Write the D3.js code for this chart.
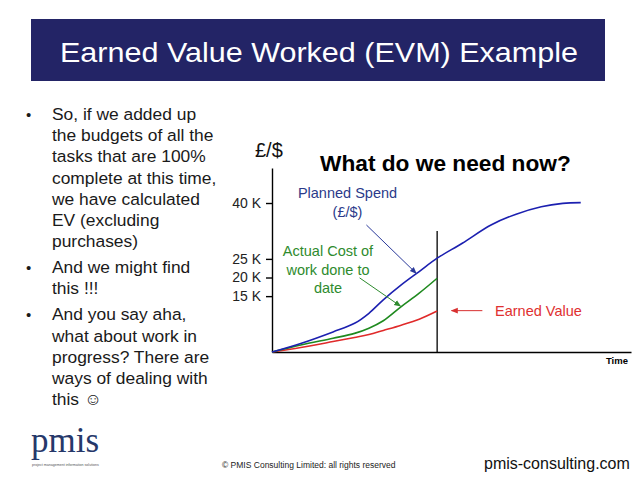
<!DOCTYPE html>
<html>
<head>
<meta charset="utf-8">
<script src="https://cdn.jsdelivr.net/npm/d3@7"></script>
<style>
    body { margin: 0; background: #fff; }
    svg { display: block; font-family: "Liberation Sans", Arial, sans-serif; }
    .tick text { font-size: 14px; fill: #222; }
    .tick line, .domain { stroke: #000; stroke-width: 1.4px; }
</style>
</head>
<body>
<svg id="slide" width="638" height="479"></svg>
<script>
// time runs 0..100 along the bottom, values are in thousands (K)
var plannedTime = [0, 8, 17, 23, 27, 31, 36, 41, 46, 53, 61, 68, 75, 81, 86];
var plannedValue = [0, 2.3, 5.4, 7.7, 10.4, 14.0, 18.0, 21.6, 25.2, 29.2, 34.1, 37.0, 39.0, 39.9, 40.1];

var actualTime = [0, 8, 17, 23, 27, 31, 36, 41, 46];
var actualValue = [0, 1.9, 3.7, 5.0, 6.4, 8.4, 12.2, 15.8, 19.8];

var earnedTime = [0, 8, 17, 23, 27, 31, 36, 41, 46];
var earnedValue = [0, 1.2, 2.8, 3.9, 4.7, 5.8, 7.2, 8.8, 11.0];

var yTicks = [15, 20, 25, 40];
var nowTime = 46;
var nowTop = 32.5;

var bulletPoints = [
    ["So, if we added up", "the budgets of all the", "tasks that are 100%", "complete at this time,",
     "we have calculated", "EV (excluding", "purchases)"],
    ["And we might find", "this !!!"],
    ["And you say aha,", "what about work in", "progress? There are", "ways of dealing with", "this \u263A"]
];

var svg = d3.select("#slide");

var x = d3.scaleLinear().domain([0, 100]).range([272, 631]);
var y = d3.scaleLinear().domain([0, 49.4]).range([352, 168]);

drawTitle();
drawBullets();
drawChart();
drawFooter();

function drawTitle() {
    svg.append("rect").attr("x", 31).attr("y", 19)
        .attr("width", 574).attr("height", 62).attr("fill", "#232466");
    svg.append("text")
        .attr("x", 60).attr("y", 62)
        .attr("textLength", 518).attr("lengthAdjust", "spacingAndGlyphs")
        .style("font-size", "28px").style("fill", "#fff")
        .text("Earned Value Worked (EVM) Example");
}

function drawBullets() {
    var lineY = 120;
    bulletPoints.forEach(function(lines) {
        svg.append("text")
            .attr("x", 26).attr("y", lineY)
            .style("font-size", "15px").style("fill", "#1a1a1a")
            .text("\u2022");
        lines.forEach(function(line) {
            svg.append("text")
                .attr("x", 52).attr("y", lineY)
                .style("font-size", "17.4px").style("fill", "#1a1a1a")
                .text(line);
            lineY += 21.2;
        });
        lineY += 4.8;
    });
}

function drawChart() {
    var defs = svg.append("defs");
    [["head-blue", "#2b3a9a"], ["head-green", "#2e8b2e"], ["head-red", "#d83030"]].forEach(function(m) {
        defs.append("marker")
            .attr("id", m[0])
            .attr("viewBox", "0 0 10 10")
            .attr("refX", 9).attr("refY", 5)
            .attr("markerWidth", 7).attr("markerHeight", 7)
            .attr("orient", "auto")
            .append("path")
            .attr("d", "M0,1 L10,5 L0,9 z")
            .attr("fill", m[1]);
    });

    // Axes
    svg.append("g")
        .attr("transform", "translate(" + x(0) + ",0)")
        .call(d3.axisLeft(y).tickValues(yTicks).tickSize(6).tickPadding(5).tickSizeOuter(0)
            .tickFormat(function(d) { return d + " K"; }))
        .selectAll("text").style("font-family", "Liberation Sans, Arial, sans-serif");
    svg.append("g")
        .attr("transform", "translate(0," + y(0) + ")")
        .call(d3.axisBottom(x).tickValues([]).tickSizeOuter(0));

    svg.append("text")
        .attr("x", 255).attr("y", 157)
        .style("font-size", "20px").style("fill", "#111")
        .text("\u00A3/$");
    svg.append("text")
        .attr("x", 320).attr("y", 171)
        .style("font-size", "22.7px").style("font-weight", "bold").style("fill", "#000")
        .text("What do we need now?");
    svg.append("text")
        .attr("x", 628).attr("y", 364).attr("text-anchor", "end")
        .style("font-size", "9.5px").style("font-weight", "bold").style("fill", "#000")
        .text("Time");

    // "Now" line
    svg.append("line")
        .attr("x1", x(nowTime)).attr("x2", x(nowTime))
        .attr("y1", y(nowTop)).attr("y2", y(0))
        .attr("stroke", "#000").attr("stroke-width", 1.3);

    var line = d3.line()
        .x(function(d) { return x(d[0]); })
        .y(function(d) { return y(d[1]); })
        .curve(d3.curveCatmullRom.alpha(0.5));

    var series = [
        [earnedTime, earnedValue, "#e02a2a"],
        [actualTime, actualValue, "#1f8a1f"],
        [plannedTime, plannedValue, "#1c20b0"]
    ];
    series.forEach(function(s) {
        svg.append("path")
            .datum(d3.zip(s[0], s[1]))
            .attr("d", line)
            .attr("fill", "none")
            .attr("stroke", s[2])
            .attr("stroke-width", 1.6);
    });

    // Annotations
    function arrow(t1, v1, t2, v2, color, head) {
        svg.append("line")
            .attr("x1", x(t1)).attr("y1", y(v1))
            .attr("x2", x(t2)).attr("y2", y(v2))
            .attr("stroke", color).attr("stroke-width", 1)
            .attr("marker-end", "url(#" + head + ")");
    }
    function label(lines, cx, firstY, step, color, anchor) {
        lines.forEach(function(l, i) {
            svg.append("text")
                .attr("x", cx).attr("y", firstY + i * step)
                .attr("text-anchor", anchor)
                .style("font-size", "14.5px").style("fill", color)
                .text(l);
        });
    }

    label(["Planned Spend", "(\u00A3/$)"], 347.5, 198, 19, "#2b3a8a", "middle");
    arrow(26.3, 34.1, 40.2, 21.1, "#2b3a9a", "head-blue");

    label(["Actual Cost of", "work done to", "date"], 328, 256, 18.5, "#2e8b2e", "middle");
    arrow(24.4, 19.9, 35.8, 12.3, "#2e8b2e", "head-green");

    label(["Earned Value"], 495, 316, 0, "#e03030", "start");
    arrow(58.6, 11.1, 50, 11.1, "#d83030", "head-red");
}

function drawFooter() {
    svg.append("text")
        .attr("x", 31).attr("y", 452)
        .style("font-family", "Liberation Serif, 'DejaVu Serif', serif")
        .style("font-size", "35px").style("fill", "#26386a")
        .text("pmis");
    svg.append("text")
        .attr("x", 32).attr("y", 466)
        .style("font-size", "3.6px").style("fill", "#555")
        .text("project management information solutions");
    svg.append("text")
        .attr("x", 222).attr("y", 468)
        .style("font-size", "8.5px").style("fill", "#222")
        .text("\u00A9 PMIS Consulting Limited: all rights reserved");
    svg.append("text")
        .attr("x", 484).attr("y", 469)
        .style("font-size", "16px").style("fill", "#111")
        .text("pmis-consulting.com");
}
</script>
</body>
</html>
